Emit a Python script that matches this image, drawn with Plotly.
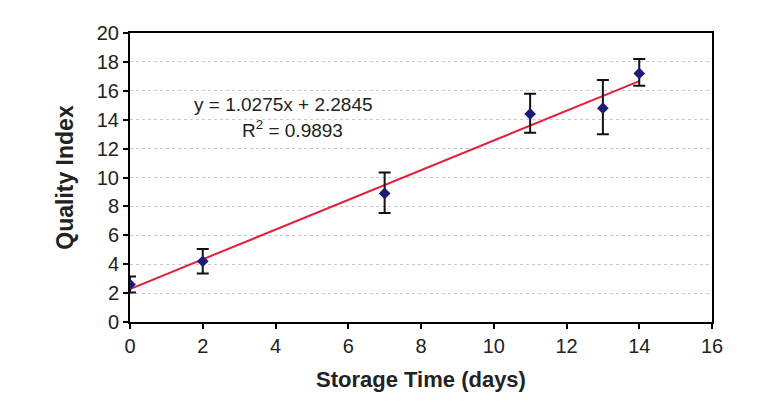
import plotly.graph_objects as go

days = [0, 2, 7, 11, 13, 14]
quality = [2.6, 4.2, 8.9, 14.4, 14.8, 17.2]
err_up = [0.55, 0.85, 1.45, 1.4, 1.95, 1.0]
err_down = [0.55, 0.85, 1.35, 1.3, 1.8, 0.85]
slope = 1.0275
intercept = 2.2845
fit_x = [0, 14]
x_ticks = [0, 2, 4, 6, 8, 10, 12, 14, 16]
y_ticks = [0, 2, 4, 6, 8, 10, 12, 14, 16, 18, 20]

fit_y = [slope * x + intercept for x in fit_x]

FONT = "Liberation Sans, Arial, sans-serif"

fig = go.Figure()
fig.add_trace(go.Scatter(
    x=fit_x, y=fit_y, mode="lines",
    line=dict(color="#e0203c", width=2), hoverinfo="skip", showlegend=False))
fig.add_trace(go.Scatter(
    x=days, y=quality, mode="markers",
    marker=dict(symbol="diamond", size=9, color="#1c1c78"),
    error_y=dict(type="data", symmetric=False, array=err_up, arrayminus=err_down,
                 color="#111111", thickness=2, width=6),
    showlegend=False))

fig.add_annotation(x=0.264, y=0.754, xref="paper", yref="paper",
                   xanchor="center", yanchor="middle",
                   text="y = 1.0275x + 2.2845", showarrow=False,
                   font=dict(family=FONT, size=19, color="#222"))
fig.add_annotation(x=0.279, y=0.668, xref="paper", yref="paper",
                   xanchor="center", yanchor="middle",
                   text="R<sup>2</sup> = 0.9893", showarrow=False,
                   font=dict(family=FONT, size=19, color="#222"))

axis_common = dict(
    showline=True, linecolor="black", linewidth=2, mirror=True,
    ticks="outside", ticklen=5, tickwidth=2, tickcolor="black",
    tickfont=dict(family=FONT, size=20, color="#222"),
    zeroline=False,
)
fig.update_xaxes(range=[0, 16], tickvals=x_ticks, showgrid=False,
                 title=dict(text="<b>Storage Time (days)</b>",
                            font=dict(family=FONT, size=22, color="#222"), standoff=16),
                 **axis_common)
fig.update_yaxes(range=[0, 20], tickvals=y_ticks, showgrid=True,
                 gridcolor="#c8c8c8", griddash="dot", gridwidth=1,
                 title=dict(text="<b>Quality Index</b>",
                            font=dict(family=FONT, size=23, color="#222"), standoff=17),
                 **axis_common)

fig.update_layout(
    width=768, height=407,
    margin=dict(l=130, r=56, t=33, b=85),
    plot_bgcolor="white", paper_bgcolor="white",
)
fig.write_html("out.html")
